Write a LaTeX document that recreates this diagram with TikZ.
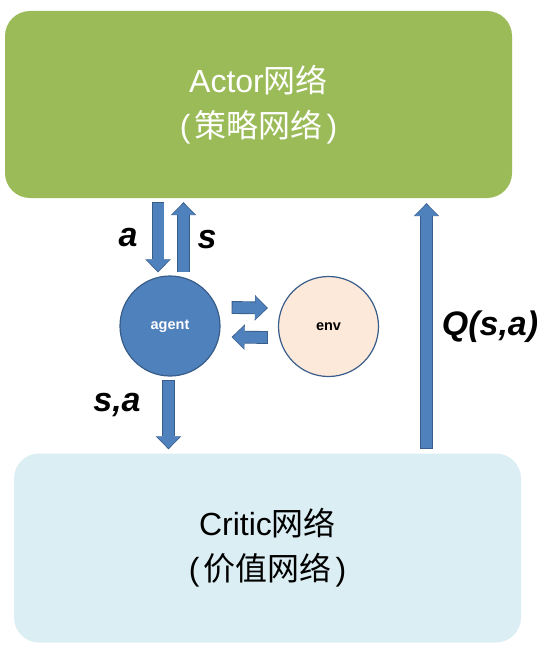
\documentclass[tikz,border=0pt]{standalone}
\usepackage{fontspec}
\setmainfont{Liberation Sans}
\newfontfamily\cjk{Noto Sans CJK SC}
\usepackage{tikz}
\usetikzlibrary{arrows.meta, positioning, calc}
\definecolor{actorBg}{RGB}{155, 187, 89}
\definecolor{criticBg}{RGB}{219, 238, 244}
\definecolor{agentBg}{RGB}{79, 129, 189}
\definecolor{edgeFg}{RGB}{56, 93, 138}
\definecolor{envBg}{RGB}{253, 233, 217}
\tikzstyle{net} = [rectangle, rounded corners=25pt, minimum width=507pt, align=center, font=\fontsize{32}{45}\selectfont]
\tikzstyle{ball} = [circle, minimum size=100pt, draw=edgeFg, line width=1.2pt, font=\bfseries\fontsize{14.5}{16}\selectfont]
\tikzstyle{flow} = [line width=11pt, draw=agentBg, shorten <=0.9pt, shorten >=1.2pt, -{Triangle[width=23pt,length=11.5pt,line width=0pt]},
  preaction={draw=edgeFg, line width=12.8pt, shorten <=0pt, shorten >=0pt, -{Triangle[width=25.5pt,length=13pt,line width=0pt]}}]
\tikzstyle{lbl} = [font=\bfseries\itshape\fontsize{34}{36}\selectfont]

\begin{document}
\begin{tikzpicture}[x=1pt, y=-1pt]
\useasboundingbox (0,0) rectangle (545,650);

\node (actor) [net, fill=actorBg, text=white, minimum height=187pt] at (258.5,104.5) {Actor{\cjk 网络}\\(\hspace{4pt}{\cjk 策略网络}\hspace{4pt})};
\node (critic) [net, fill=criticBg, text=black, minimum height=189pt] at (267.5,548) {Critic{\cjk 网络}\\(\hspace{4pt}{\cjk 价值网络}\hspace{4pt})};

\node (agent) [ball, fill=agentBg, text=white] at (170,326) {agent};
\node (env) [ball, fill=envBg, text=black] at (328.5,326.5) {env};

\draw [flow] ($(actor.south -| agent.north) + (-12, 4)$) -- ($(agent.north) + (-12, -3)$);
\draw [flow] ($(agent.north) + (13.5, -3)$) -- ($(actor.south -| agent.north) + (13.5, 4)$);
\draw [flow] ($(agent.east) + (11, -18.5)$) -- ($(env.west) + (-10, -18.5)$);
\draw [flow] ($(env.west) + (-10, 11)$) -- ($(agent.east) + (11, 11)$);
\draw [flow] ($(agent.south) + (-1.5, 3)$) -- ($(critic.north -| agent.south) + (-1.5, -4)$);
\draw [flow] ($(critic.north) + (159, -4)$) -- ($(actor.south) + (168, 5)$);

\node (lblA) [lbl] at (128,238) {a};
\node (lblS) [lbl] at (207,240) {s};
\node (lblSA) [lbl] at (117,405) {s,a};
\node (lblQ) [lbl] at (490,327) {Q(s,a)};

\end{tikzpicture}
\end{document}
